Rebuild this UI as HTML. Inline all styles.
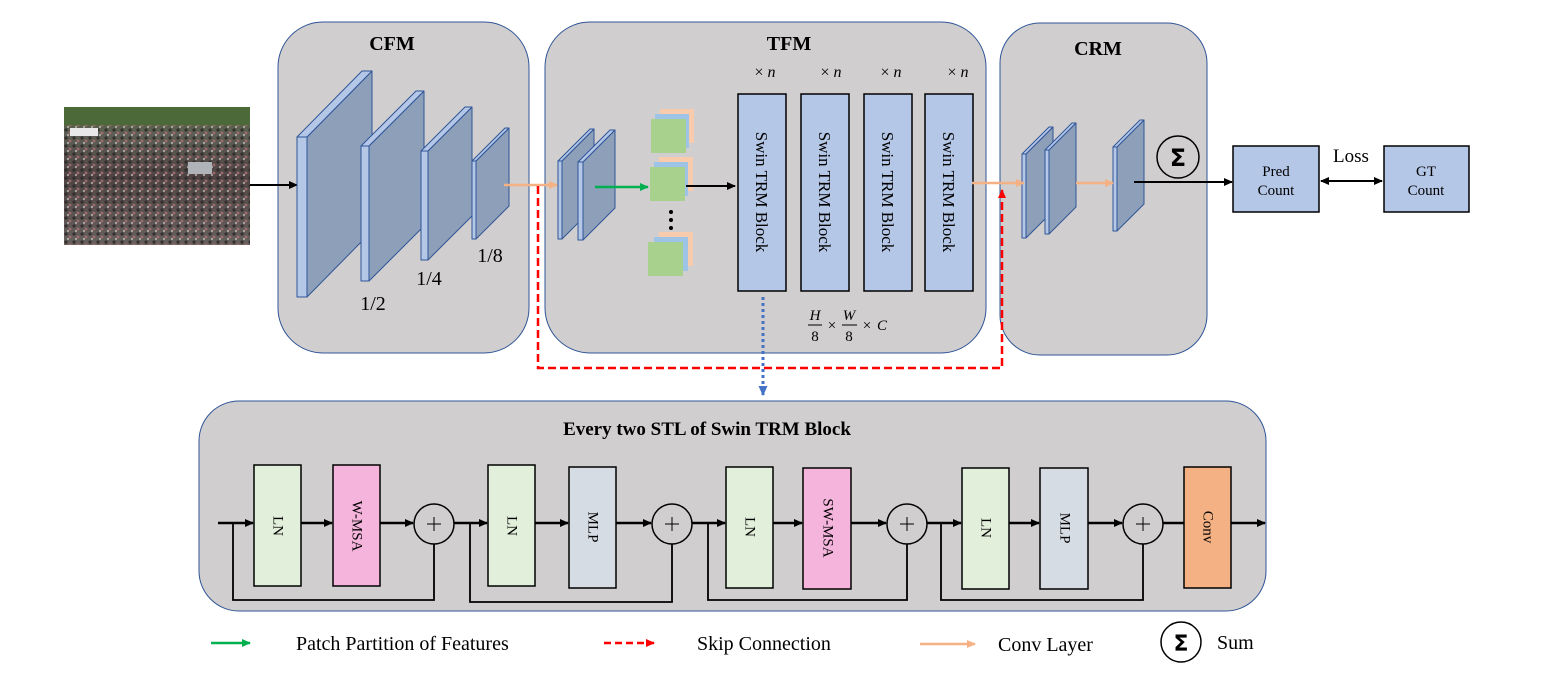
<!DOCTYPE html>
<html><head><meta charset="utf-8"><style>
html,body{margin:0;padding:0;background:#fff;}
svg{display:block;}
text{font-family:"Liberation Serif",serif;fill:#000;}
</style></head><body>
<svg width="1551" height="694" viewBox="0 0 1551 694" xmlns="http://www.w3.org/2000/svg">
<defs>
<marker id="ab" markerWidth="9" markerHeight="9" refX="8" refY="4.5" orient="auto" markerUnits="userSpaceOnUse"><path d="M0,0.5 L9,4.5 L0,8.5 Z" fill="#000"/></marker>
<marker id="abs" markerWidth="9" markerHeight="9" refX="8" refY="4.5" orient="auto-start-reverse" markerUnits="userSpaceOnUse"><path d="M0,0.5 L9,4.5 L0,8.5 Z" fill="#000"/></marker>
<marker id="ag" markerWidth="9" markerHeight="9" refX="8" refY="4.5" orient="auto" markerUnits="userSpaceOnUse"><path d="M0,0.5 L9,4.5 L0,8.5 Z" fill="#00b050"/></marker>
<marker id="ao" markerWidth="9" markerHeight="9" refX="8" refY="4.5" orient="auto" markerUnits="userSpaceOnUse"><path d="M0,0.5 L9,4.5 L0,8.5 Z" fill="#f4b183"/></marker>
<marker id="ar" markerWidth="9" markerHeight="9" refX="8" refY="4.5" orient="auto" markerUnits="userSpaceOnUse"><path d="M0,0.5 L9,4.5 L0,8.5 Z" fill="#f00"/></marker>
<marker id="abl" markerWidth="10" markerHeight="10" refX="9" refY="5" orient="auto" markerUnits="userSpaceOnUse"><path d="M0,0.5 L10,5 L0,9.5 Z" fill="#4472c4"/></marker>
<linearGradient id="crowd" x1="0" y1="0" x2="0" y2="1">
<stop offset="0" stop-color="#4d6a3a"/><stop offset="0.2" stop-color="#5e5e56"/><stop offset="0.5" stop-color="#4e4444"/><stop offset="1" stop-color="#66605e"/></linearGradient>
<pattern id="dots" width="8" height="8" patternUnits="userSpaceOnUse">
<rect width="8" height="8" fill="none"/><circle cx="2" cy="2" r="1.6" fill="#2a2424"/><circle cx="6" cy="5" r="1.4" fill="#b07070"/><circle cx="4" cy="7" r="1" fill="#d8d0d0"/></pattern>
</defs>

<rect x="278" y="22" width="251" height="331" rx="45" fill="#d0cece" stroke="#2f5597" stroke-width="1"/>
<rect x="545" y="22" width="441" height="331" rx="45" fill="#d0cece" stroke="#2f5597" stroke-width="1"/>
<rect x="1000" y="23" width="207" height="332" rx="40" fill="#d0cece" stroke="#2f5597" stroke-width="1"/>
<rect x="199" y="401" width="1067" height="210" rx="40" fill="#d0cece" stroke="#2f5597" stroke-width="1"/>

<text x="392" y="50" font-size="20" font-weight="bold" text-anchor="middle">CFM</text>
<text x="789" y="50" font-size="20" font-weight="bold" text-anchor="middle">TFM</text>
<text x="1098" y="55" font-size="20" font-weight="bold" text-anchor="middle">CRM</text>

<rect x="64" y="107" width="186" height="138" fill="url(#crowd)"/>
<rect x="64" y="125" width="186" height="120" fill="url(#dots)" opacity="0.8"/>
<rect x="64" y="107" width="186" height="18" fill="#4a6a36" opacity="0.8"/>
<rect x="70" y="128" width="28" height="8" fill="#e8e8e8"/>
<rect x="188" y="162" width="24" height="12" fill="#b0b4b8"/>
<line x1="250" y1="185" x2="297" y2="185" stroke="#000" stroke-width="2" marker-end="url(#ab)"/>

<g stroke="#2f5597" stroke-width="1" stroke-linejoin="round">
<polygon points="307,137 372,71 372,231 307,297" fill="#8ea0b9"/>
<polygon points="297,137 362,71 372,71 307,137" fill="#b4c7e7"/>
<rect x="297" y="137" width="10" height="160" fill="#b4c7e7"/>
<polygon points="369,146 424,91 424,226 369,281" fill="#8ea0b9"/>
<polygon points="361,146 416,91 424,91 369,146" fill="#b4c7e7"/>
<rect x="361" y="146" width="8" height="135" fill="#b4c7e7"/>
<polygon points="428,151 472,107 472,216 428,260" fill="#8ea0b9"/>
<polygon points="421,151 465,107 472,107 428,151" fill="#b4c7e7"/>
<rect x="421" y="151" width="7" height="109" fill="#b4c7e7"/>
<polygon points="476,161 509,128 509,206 476,239" fill="#8ea0b9"/>
<polygon points="472,161 505,128 509,128 476,161" fill="#b4c7e7"/>
<rect x="472" y="161" width="4" height="78" fill="#b4c7e7"/>
<polygon points="562,161 594,129 594,207 562,239" fill="#8ea0b9"/>
<polygon points="558,161 590,129 594,129 562,161" fill="#b4c7e7"/>
<rect x="558" y="161" width="4" height="78" fill="#b4c7e7"/>
<polygon points="583,162 615,130 615,208 583,240" fill="#8ea0b9"/>
<polygon points="578,162 610,130 615,130 583,162" fill="#b4c7e7"/>
<rect x="578" y="162" width="5" height="78" fill="#b4c7e7"/>
<polygon points="1026,154 1053,127 1053,211 1026,238" fill="#8ea0b9"/>
<polygon points="1022,154 1049,127 1053,127 1026,154" fill="#b4c7e7"/>
<rect x="1022" y="154" width="4" height="84" fill="#b4c7e7"/>
<polygon points="1049,150 1076,123 1076,207 1049,234" fill="#8ea0b9"/>
<polygon points="1045,150 1072,123 1076,123 1049,150" fill="#b4c7e7"/>
<rect x="1045" y="150" width="4" height="84" fill="#b4c7e7"/>
<polygon points="1117,147 1144,120 1144,204 1117,231" fill="#8ea0b9"/>
<polygon points="1113,147 1140,120 1144,120 1117,147" fill="#b4c7e7"/>
<rect x="1113" y="147" width="4" height="84" fill="#b4c7e7"/>
</g>

<text x="373" y="310" font-size="20" text-anchor="middle">1/2</text>
<text x="429" y="285" font-size="20" text-anchor="middle">1/4</text>
<text x="490" y="262" font-size="20" text-anchor="middle">1/8</text>

<line x1="504" y1="185" x2="557" y2="185" stroke="#f4b183" stroke-width="2.5" marker-end="url(#ao)"/>
<polyline points="538,186 538,368 1002,368 1002,190" fill="none" stroke="#f00" stroke-width="2.5" stroke-dasharray="8,4" marker-end="url(#ar)"/>

<line x1="595" y1="187" x2="648" y2="187" stroke="#00b050" stroke-width="2.5" marker-end="url(#ag)"/>
<g>
<rect x="660" y="109" width="34" height="34" fill="#f8cbad"/><rect x="655" y="114" width="34" height="34" fill="#9dc3e6"/><rect x="651" y="119" width="35" height="34" fill="#a9d18e"/>
<rect x="659" y="157" width="34" height="34" fill="#f8cbad"/><rect x="654" y="162" width="34" height="34" fill="#9dc3e6"/><rect x="650" y="167" width="35" height="34" fill="#a9d18e"/>
<rect x="659" y="232" width="34" height="34" fill="#f8cbad"/><rect x="654" y="237" width="34" height="34" fill="#9dc3e6"/><rect x="648" y="242" width="35" height="34" fill="#a9d18e"/>
</g>
<circle cx="671" cy="212" r="2" fill="#000"/><circle cx="671" cy="220" r="2" fill="#000"/><circle cx="671" cy="228" r="2" fill="#000"/>
<line x1="686" y1="186" x2="735" y2="186" stroke="#000" stroke-width="2" marker-end="url(#ab)"/>

<g fill="#b4c7e7" stroke="#000" stroke-width="1.5">
<rect x="738" y="94" width="48" height="197"/>
<rect x="801" y="94" width="48" height="197"/>
<rect x="864" y="94" width="48" height="197"/>
<rect x="925" y="94" width="48" height="197"/>
</g>
<g font-size="17">
<text transform="translate(756,192) rotate(90)" text-anchor="middle">Swin TRM Block</text>
<text transform="translate(819,192) rotate(90)" text-anchor="middle">Swin TRM Block</text>
<text transform="translate(882,192) rotate(90)" text-anchor="middle">Swin TRM Block</text>
<text transform="translate(943,192) rotate(90)" text-anchor="middle">Swin TRM Block</text>
</g>
<g font-size="16">
<text x="765" y="77" text-anchor="middle">× <tspan font-style="italic">n</tspan></text>
<text x="831" y="77" text-anchor="middle">× <tspan font-style="italic">n</tspan></text>
<text x="891" y="77" text-anchor="middle">× <tspan font-style="italic">n</tspan></text>
<text x="958" y="77" text-anchor="middle">× <tspan font-style="italic">n</tspan></text>
</g>
<g font-size="15">
<text x="815" y="320" text-anchor="middle" font-style="italic">H</text>
<line x1="808" y1="325" x2="822" y2="325" stroke="#000" stroke-width="1"/>
<text x="815" y="341" text-anchor="middle">8</text>
<text x="832" y="330" text-anchor="middle">×</text>
<text x="849" y="320" text-anchor="middle" font-style="italic">W</text>
<line x1="842" y1="325" x2="857" y2="325" stroke="#000" stroke-width="1"/>
<text x="849" y="341" text-anchor="middle">8</text>
<text x="867" y="330" text-anchor="middle">×</text>
<text x="882" y="330" text-anchor="middle" font-style="italic">C</text>
</g>
<line x1="763" y1="297" x2="763" y2="395" stroke="#4472c4" stroke-width="3" stroke-dasharray="3,3" marker-end="url(#abl)"/>

<line x1="972" y1="183" x2="1024" y2="183" stroke="#f4b183" stroke-width="2.5" marker-end="url(#ao)"/>
<line x1="1076" y1="183" x2="1113" y2="183" stroke="#f4b183" stroke-width="2.5" marker-end="url(#ao)"/>
<circle cx="1178" cy="157" r="21" fill="none" stroke="#000" stroke-width="1.5"/>
<text x="1178" y="166" font-size="24" font-weight="bold" text-anchor="middle" style="font-family:'DejaVu Sans',sans-serif">Σ</text>
<line x1="1134" y1="182" x2="1232" y2="182" stroke="#000" stroke-width="2" marker-end="url(#ab)"/>

<rect x="1233" y="146" width="86" height="66" fill="#b4c7e7" stroke="#000" stroke-width="1.5"/>
<text x="1276" y="176" font-size="15" text-anchor="middle">Pred</text>
<text x="1276" y="195" font-size="15" text-anchor="middle">Count</text>
<rect x="1384" y="146" width="85" height="66" fill="#b4c7e7" stroke="#000" stroke-width="1.5"/>
<text x="1426" y="176" font-size="15" text-anchor="middle">GT</text>
<text x="1426" y="195" font-size="15" text-anchor="middle">Count</text>
<line x1="1321" y1="181" x2="1382" y2="181" stroke="#000" stroke-width="2" marker-start="url(#abs)" marker-end="url(#ab)"/>
<text x="1351" y="162" font-size="19" text-anchor="middle">Loss</text>

<text x="707" y="435" font-size="19" font-weight="bold" text-anchor="middle">Every two STL of Swin TRM Block</text>
<g stroke="#000" stroke-width="1.5">
<rect x="254" y="465" width="47" height="121" fill="#e2efda"/>
<rect x="333" y="465" width="47" height="121" fill="#f4b4dc"/>
<rect x="488" y="465" width="47" height="121" fill="#e2efda"/>
<rect x="569" y="467" width="47" height="121" fill="#d6dce4"/>
<rect x="726" y="467" width="47" height="121" fill="#e2efda"/>
<rect x="803" y="468" width="48" height="121" fill="#f4b4dc"/>
<rect x="962" y="468" width="47" height="121" fill="#e2efda"/>
<rect x="1040" y="468" width="48" height="121" fill="#d6dce4"/>
<rect x="1184" y="467" width="47" height="121" fill="#f4b183"/>
</g>
<g font-size="15">
<text transform="translate(277,526) rotate(90)" text-anchor="middle" dominant-baseline="middle">LN</text>
<text transform="translate(356,526) rotate(90)" text-anchor="middle" dominant-baseline="middle">W-MSA</text>
<text transform="translate(511,526) rotate(90)" text-anchor="middle" dominant-baseline="middle">LN</text>
<text transform="translate(592,527) rotate(90)" text-anchor="middle" dominant-baseline="middle">MLP</text>
<text transform="translate(749,527) rotate(90)" text-anchor="middle" dominant-baseline="middle">LN</text>
<text transform="translate(827,528) rotate(90)" text-anchor="middle" dominant-baseline="middle">SW-MSA</text>
<text transform="translate(985,528) rotate(90)" text-anchor="middle" dominant-baseline="middle">LN</text>
<text transform="translate(1064,528) rotate(90)" text-anchor="middle" dominant-baseline="middle">MLP</text>
<text transform="translate(1207,527) rotate(90)" text-anchor="middle" dominant-baseline="middle">Conv</text>
</g>
<g fill="none" stroke="#000" stroke-width="1.5">
<circle cx="434" cy="524" r="20"/><circle cx="672" cy="524" r="20"/><circle cx="907" cy="524" r="20"/><circle cx="1143" cy="524" r="20"/>
</g>
<g stroke="#000" stroke-width="1">
<line x1="427" y1="524" x2="441" y2="524"/><line x1="434" y1="517" x2="434" y2="531"/>
<line x1="665" y1="524" x2="679" y2="524"/><line x1="672" y1="517" x2="672" y2="531"/>
<line x1="900" y1="524" x2="914" y2="524"/><line x1="907" y1="517" x2="907" y2="531"/>
<line x1="1136" y1="524" x2="1150" y2="524"/><line x1="1143" y1="517" x2="1143" y2="531"/>
</g>
<g stroke="#000" stroke-width="2.5" fill="none">
<line x1="218" y1="523" x2="253" y2="523" marker-end="url(#ab)"/>
<line x1="301" y1="523" x2="332" y2="523" marker-end="url(#ab)"/>
<line x1="380" y1="523" x2="413" y2="523" marker-end="url(#ab)"/>
<line x1="454" y1="523" x2="487" y2="523" marker-end="url(#ab)"/>
<line x1="535" y1="523" x2="568" y2="523" marker-end="url(#ab)"/>
<line x1="616" y1="523" x2="651" y2="523" marker-end="url(#ab)"/>
<line x1="692" y1="523" x2="725" y2="523" marker-end="url(#ab)"/>
<line x1="773" y1="523" x2="802" y2="523" marker-end="url(#ab)"/>
<line x1="851" y1="523" x2="886" y2="523" marker-end="url(#ab)"/>
<line x1="927" y1="523" x2="961" y2="523" marker-end="url(#ab)"/>
<line x1="1009" y1="523" x2="1039" y2="523" marker-end="url(#ab)"/>
<line x1="1088" y1="523" x2="1122" y2="523" marker-end="url(#ab)"/>
<line x1="1163" y1="523" x2="1184" y2="523"/>
<line x1="1231" y1="523" x2="1265" y2="523" marker-end="url(#ab)"/>
</g>
<g stroke="#000" stroke-width="1.8" fill="none">
<polyline points="233,523 233,600 434,600 434,544"/>
<polyline points="470,523 470,602 672,602 672,544"/>
<polyline points="708,523 708,600 907,600 907,544"/>
<polyline points="941,523 941,600 1143,600 1143,544"/>
</g>

<line x1="211" y1="643" x2="250" y2="643" stroke="#00b050" stroke-width="2.5" marker-end="url(#ag)"/>
<text x="296" y="650" font-size="20">Patch Partition of Features</text>
<line x1="604" y1="643" x2="654" y2="643" stroke="#f00" stroke-width="2.5" stroke-dasharray="7,4" marker-end="url(#ar)"/>
<text x="697" y="650" font-size="20">Skip Connection</text>
<line x1="920" y1="644" x2="975" y2="644" stroke="#f4b183" stroke-width="2.5" marker-end="url(#ao)"/>
<text x="998" y="651" font-size="20">Conv Layer</text>
<circle cx="1181" cy="642" r="20" fill="none" stroke="#000" stroke-width="1.5"/>
<text x="1181" y="651" font-size="22" font-weight="bold" text-anchor="middle" style="font-family:'DejaVu Sans',sans-serif">Σ</text>
<text x="1217" y="649" font-size="20">Sum</text>
</svg>
</body></html>
